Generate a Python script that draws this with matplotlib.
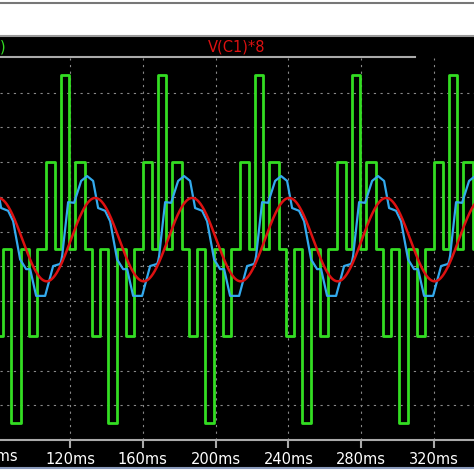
import numpy as np
import matplotlib.pyplot as plt
from matplotlib.lines import Line2D
from matplotlib.patches import Rectangle

# time axis (ms)
t_start, t_end = 81.5, 342.0
tick_ms = [120, 160, 200, 240, 280, 320]
period = 53.3
t_first_pulse = 115.1

# green: multilevel inverter output, one period of levels and relative widths
g_levels = [5, 0, 2.5, 0, -2.5, 0, -5, 0, -2.5, 0, 2.5, 0]
g_widths = [8, 6, 9.5, 7, 8, 8, 9, 8, 8, 9, 9, 6]

# blue: current waveform, key points over one period (phase, value)
b_phase = [0, 1, 7, 13, 20, 26, 32, 37, 44, 49, 56, 62, 66, 72, 81, 89, 96, 97]
b_value = [-0.35, -0.2, 1.35, 1.33, 1.96, 2.1, 1.96, 1.18, 1.1, 0.8, -0.3,
           -0.58, -0.58, -1.35, -1.35, -0.49, -0.43, -0.35]

# red: V(C1)*8
r_offset, r_amp, r_peak_t = 0.27, 1.2, 133.8

W, H = 474, 474
fig = plt.figure(figsize=(W / 100, H / 100), dpi=100, facecolor='black')
ax = fig.add_axes([0, (H - 440) / H, 1, (440 - 58) / H])
ax.set_facecolor('black')

# green steps
edges = [0] + list(np.cumsum(g_widths) / sum(g_widths) * period)
gt, gv = [], []
k0 = int(np.floor((t_start - t_first_pulse) / period)) - 1
for k in range(k0, k0 + 8):
    base = t_first_pulse + k * period
    for i, lv in enumerate(g_levels):
        gt += [base + edges[i], base + edges[i + 1]]
        gv += [lv, lv]
ax.plot(gt, gv, color='#33dd22', lw=2.0)

# blue
ph = np.array(b_phase) / 97 * period
bt, bv = [], []
for k in range(k0, k0 + 8):
    base = t_first_pulse + k * period
    bt += list(base + ph)
    bv += b_value
ax.plot(bt, bv, color='#33aaee', lw=1.6)

# red
t = np.linspace(t_start - 5, t_end + 5, 1500)
ax.plot(t, r_offset + r_amp * np.cos(2 * np.pi * (t - r_peak_t) / period),
        color='#dd1111', lw=1.8)

ax.set_xlim(t_start, t_end)
ax.set_ylim(-5.5, 5.5)
for x in tick_ms:
    ax.axvline(x, color='#888888', ls=(0, (2, 4)), lw=0.8, zorder=0)
for y in np.arange(-4.5, 5, 1.0):
    ax.axhline(y, color='#888888', ls=(0, (2, 4)), lw=0.8, zorder=0)
for s in ax.spines.values():
    s.set_visible(False)
ax.spines['bottom'].set_visible(True)
ax.spines['bottom'].set_color('#aaaaaa')
ax.spines['bottom'].set_linewidth(1.5)
ax.set_yticks([])
ax.set_xticks(tick_ms)
ax.set_xticklabels([f'{v}ms' for v in tick_ms])
ax.tick_params(axis='x', colors='#aaaaaa', labelcolor='white', length=6,
               width=1.5, labelsize=10.5, pad=3)
ax.text(80, -9 / 382, '80ms', transform=ax.get_xaxis_transform(), color='white',
        fontsize=10.5, ha='center', va='top', clip_on=False)

# header and frame
fig.patches.append(Rectangle((0, (H - 37) / H), 1, 37 / H, transform=fig.transFigure,
                             facecolor='white', edgecolor='none'))
fig.patches.append(Rectangle((0, 0), 1, 6 / H, transform=fig.transFigure,
                             facecolor='white', edgecolor='none'))
fig.lines.append(Line2D([0, 1], [(H - 3) / H] * 2, transform=fig.transFigure,
                        color='#777777', lw=1.5))
fig.lines.append(Line2D([0, 1], [(H - 36) / H] * 2, transform=fig.transFigure,
                        color='#999999', lw=1.5))
fig.lines.append(Line2D([0, 415 / W], [(H - 57) / H] * 2, transform=fig.transFigure,
                        color='#aaaaaa', lw=1.5))
fig.lines.append(Line2D([0, 1], [6 / H] * 2, transform=fig.transFigure,
                        color='#8899bb', lw=1.5))
fig.text(237 / W, (H - 47) / H, 'V(C1)*8', color='#dd1111', fontsize=10.5,
         ha='center', va='center')
fig.text(0, (H - 47) / H, ')', color='#33dd22', fontsize=10.5, ha='left', va='center')

fig.savefig('out.png', dpi=100, facecolor='black')
